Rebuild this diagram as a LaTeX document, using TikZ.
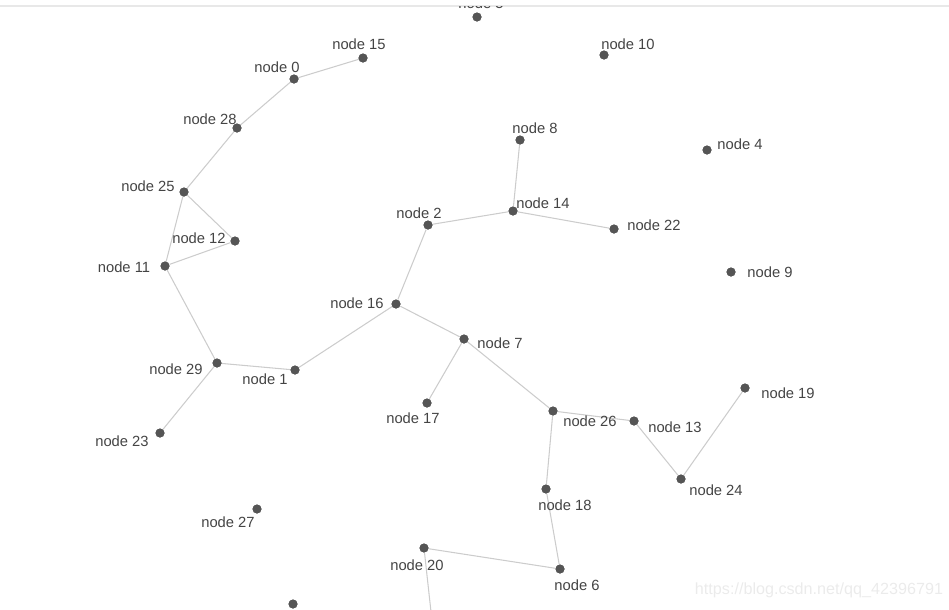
\documentclass[tikz,border=0pt]{standalone}
\usepackage{fontspec}
\setmainfont{Liberation Sans}
\usepackage{tikz}

\definecolor{dotgray}{HTML}{555555}
\definecolor{txtgray}{HTML}{444444}
\definecolor{edgegray}{HTML}{CCCCCC}

\tikzset{
  dot/.style={circle,fill=dotgray,inner sep=0pt,minimum size=0.18cm},
  lbl/.style={text=txtgray,inner sep=0pt,font=\fontsize{8.4}{9}\selectfont},
  link/.style={draw=edgegray,line width=0.6pt}
}

\begin{document}
\begin{tikzpicture}[x=0.02cm,y=-0.02cm]
    % page size (pixel grid)
    \useasboundingbox (0,0) rectangle (949,609);
    % header rule
    \draw[black!9,line width=0.6pt] (0,6) -- (949,6);

    \begin{scope}
      \clip (0,6.5) rectangle (949,609);

      % ---- links ----
      \coordinate (off20) at (433,630);
      \path (477,17) coordinate (c5);
      \draw[link] (363,58) coordinate (c15) -- (294,79) coordinate (c0)
        -- (237,128) coordinate (c28) -- (184,192) coordinate (c25)
        -- (165,266) coordinate (c11) -- (217,363) coordinate (c29)
        -- (295,370) coordinate (c1) -- (396,304) coordinate (c16);

      % ---- nodes ----
      \node[dot] (n5)  at (477,17)  {};
      \node[dot] (n15) at (363,58)  {};
      \node[dot] (n10) at (604,55)  {};
      \node[dot] (n0)  at (294,79)  {};
      \node[dot] (n8)  at (520,140) {};
      \node[dot] (n4)  at (707,150) {};
      \node[dot] (n28) at (237,128) {};
      \node[dot] (n25) at (184,192) {};
      \node[dot] (n2)  at (428,225) {};
      \node[dot] (n14) at (513,211) {};
      \node[dot] (n22) at (614,229) {};
      \node[dot] (n12) at (235,241) {};
      \node[dot] (n11) at (165,266) {};
      \node[dot] (n9)  at (731,272) {};
      \node[dot] (n16) at (396,304) {};
      \node[dot] (n7)  at (464,339) {};
      \node[dot] (n29) at (217,363) {};
      \node[dot] (n1)  at (295,370) {};
      \node[dot] (n19) at (745,388) {};
      \node[dot] (n17) at (427,403) {};
      \node[dot] (n26) at (553,411) {};
      \node[dot] (n13) at (634,421) {};
      \node[dot] (n23) at (160,433) {};
      \node[dot] (n24) at (681,479) {};
      \node[dot] (n18) at (546,489) {};
      \node[dot] (n27) at (257,509) {};
      \node[dot] (n20) at (424,548) {};
      \node[dot] (n6)  at (560,569) {};
      \node[dot] (n3)  at (293,604) {};

      \draw[link] (n25) -- (n12) -- (n11);
      \draw[link] (n29) -- (n23);
      \draw[link] (n16) -- (n2) -- (n14) -- (n8);
      \draw[link] (n14) -- (n22);
      \draw[link] (n16) -- (n7) -- (n17);
      \draw[link] (n7) -- (n26) -- (n13) -- (n24) -- (n19);
      \draw[link] (n26) -- (n18) -- (n6) -- (n20) -- (off20);

      % redraw dots on top of the links
      \foreach \n in {n5,n15,n10,n0,n8,n4,n28,n25,n2,n14,n22,n12,n11,n9,n16,
                      n7,n29,n1,n19,n17,n26,n13,n23,n24,n18,n27,n20,n6,n3}
        \fill[dotgray] (\n) circle (4.5);

      % ---- labels ----
      \node[lbl] (t5)  at (481,3)   {node 5};
      \node[lbl] (t15) at (359,44)  {node 15};
      \node[lbl] (t10) at (628,44)  {node 10};
      \node[lbl] (t0)  at (277,67)  {node 0};
      \node[lbl] (t8)  at (535,128) {node 8};
      \node[lbl] (t4)  at (740,144) {node 4};
      \node[lbl] (t28) at (210,119) {node 28};
      \node[lbl] (t25) at (148,186) {node 25};
      \node[lbl] (t2)  at (419,213) {node 2};
      \node[lbl] (t14) at (543,203) {node 14};
      \node[lbl] (t22) at (654,225) {node 22};
      \node[lbl] (t12) at (199,238) {node 12};
      \node[lbl] (t11) at (124,267) {node 11};
      \node[lbl] (t9)  at (770,272) {node 9};
      \node[lbl] (t16) at (357,303) {node 16};
      \node[lbl] (t7)  at (500,343) {node 7};
      \node[lbl] (t29) at (176,369) {node 29};
      \node[lbl] (t1)  at (265,379) {node 1};
      \node[lbl] (t19) at (788,393) {node 19};
      \node[lbl] (t17) at (413,418) {node 17};
      \node[lbl] (t26) at (590,421) {node 26};
      \node[lbl] (t13) at (675,427) {node 13};
      \node[lbl] (t23) at (122,441) {node 23};
      \node[lbl] (t24) at (716,490) {node 24};
      \node[lbl] (t18) at (565,505) {node 18};
      \node[lbl] (t27) at (228,522) {node 27};
      \node[lbl] (t20) at (417,565) {node 20};
      \node[lbl] (t6)  at (577,585) {node 6};
    \end{scope}

    % watermark
    \node[text=black!8,inner sep=0pt,font=\fontsize{9.2}{10}\selectfont] (wm)
      at (819,590) {https://blog.csdn.net/qq\_42396791};
\end{tikzpicture}
\end{document}
